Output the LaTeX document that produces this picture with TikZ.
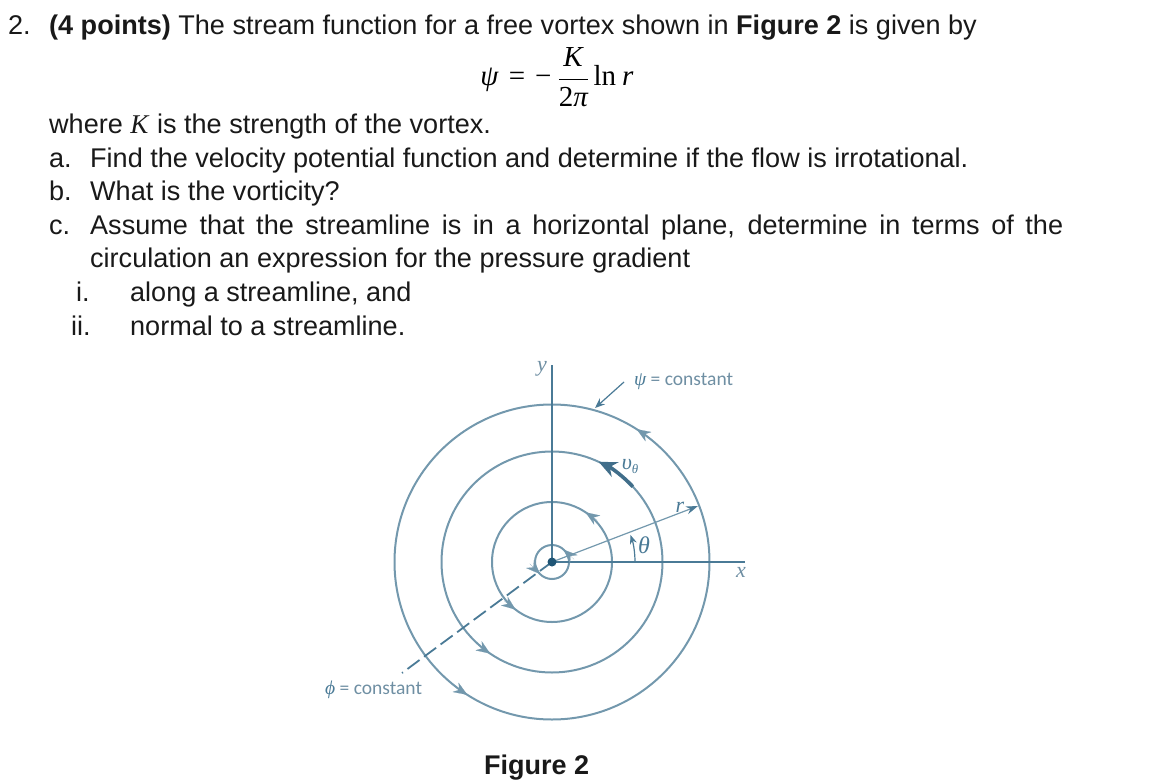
\documentclass[tikz,border=0pt]{standalone}
\usepackage{fontspec}
\setmainfont{Liberation Sans}
\newfontfamily\figfont{Carlito}
\newfontfamily\serfont{Liberation Serif}
\usetikzlibrary{arrows.meta}
\definecolor{figline}{HTML}{7398AD}
\definecolor{figdark}{HTML}{4A7A96}
\definecolor{figdeep}{HTML}{1F5575}
\definecolor{figtext}{HTML}{6F8FA3}
\tikzset{
  txt/.style={anchor=base west,inner sep=0pt,font=\fontsize{27.05}{33}\selectfont,text=black!90},
  flowline/.style={draw=figline,line width=2pt},
  axisline/.style={draw=figdark,line width=1.8pt},
  flowtip/.style={draw=none,-{Stealth[length=14pt,width=11pt,color=figline]}},
  figlabel/.style={anchor=base west,inner sep=0pt,text=figtext,font=\figfont\fontsize{19.5}{24}\selectfont},
  figsym/.style={inner sep=0pt,text=figdark,font=\serfont\itshape\fontsize{22}{24}\selectfont},
}
\newcommand{\tipon}[2]{\draw[flowtip,draw=figline,line width=0.1pt] ([shift={(O)}]#2:#1pt) ++(#2-90:14.5pt) -- ++(#2+90:14.5pt);}
\begin{document}
\begin{tikzpicture}[x=1pt,y=1pt]
\useasboundingbox (0,0) rectangle (1156,-781);
% text
\node[txt] (l1n) at (8,-35) {2.};
\node[txt] (l1) at (49,-35) {\textbf{(4 points)} The stream function for a free vortex shown in \textbf{Figure 2} is given by};
\node[anchor=center,inner sep=0pt,font=\serfont\fontsize{29}{32}\selectfont] (eq) at (557,-77.5) {\textit{ψ}\hspace{10pt}=\hspace{10pt}−\hspace{6pt}$\displaystyle\frac{\mbox{\rule[-11pt]{0pt}{1pt}\textit{K}}}{\mbox{\rule{0pt}{26pt}2\textit{π}}}$\hspace{4pt}ln\hspace{6pt}\textit{r}};
\node[txt] (l2) at (49,-133) {where \textit{\serfont K} is the strength of the vortex.};
\node[txt] (la) at (49,-167) {a.};
\node[txt] (lat) at (90,-167) {Find the velocity potential function and determine if the flow is irrotational.};
\node[txt] (lb) at (49,-200) {b.};
\node[txt] (lbt) at (90,-200) {What is the vorticity?};
\node[txt] (lc) at (49,-234) {c.};
\node[txt] (lct) at (90,-234) {\makebox[973pt][s]{Assume that the streamline is in a horizontal plane, determine in terms of the}};
\node[txt] (lct2) at (90,-267) {circulation an expression for the pressure gradient};
\node[txt] (li) at (76,-301) {i.};
\node[txt] (lit) at (130,-301) {along a streamline, and};
\node[txt] (lii) at (71,-335) {ii.};
\node[txt] (liit) at (130,-335) {normal to a streamline.};
\node[txt,font=\bfseries\fontsize{27}{33}\selectfont] (cap) at (484,-774) {Figure 2};
% figure
\coordinate (O) at (552,-562);
\coordinate (ytop) at (552,-365);
\coordinate (xend) at (745,-562);
\coordinate (rend) at (698,-506);
\coordinate (dashend) at (402,-673);
\coordinate (psistart) at (624,-382);
\coordinate (psiend) at (595,-408);
\node[circle,flowline,minimum size=34pt,inner sep=0pt] (c1) at (O) {};
\node[circle,flowline,minimum size=120pt,inner sep=0pt] (c2) at (O) {};
\node[circle,flowline,minimum size=221pt,inner sep=0pt] (c3) at (O) {};
\node[circle,flowline,minimum size=315pt,inner sep=0pt] (c4) at (O) {};
\draw[axisline] (O) -- (ytop);
\draw[axisline] (O) -- (xend);
\draw[draw=figdark,line width=1.8pt,dash pattern=on 15pt off 5.6pt] (O) -- (dashend);
\draw[draw=figline,line width=1.2pt,-{Stealth[length=12pt,width=8pt,color=figdark]}] (O) -- (rend);
\draw[draw=figdark,line width=1.2pt,-{Stealth[length=10pt,width=8pt]}] (psistart) -- (psiend);
\fill[figdeep] (O) circle[radius=4.5pt];
% flow direction tips
\tipon{157.5}{57.5}
\tipon{157.5}{237.5}
\tipon{110.5}{236}
\tipon{60}{56}
\tipon{60}{232.5}
\tipon{17}{47}
\tipon{17}{225}
% velocity and angle
\draw[draw=figdeep!85,line width=3.6pt,-{Stealth[length=18pt,width=16pt]}] ([shift={(O)}]43:110.5pt) arc[start angle=43,end angle=65,radius=110.5pt];
\draw[draw=figdark,line width=1.2pt,-{Stealth[length=9pt,width=7pt]}] ([shift={(O)}]0:83pt) arc[start angle=0,end angle=19,radius=83pt];
% labels
\node[figsym,text=figtext] (ly) at (542,-369) {y};
\node[figsym,text=figtext] (lx) at (741,-572) {x};
\node[figsym] (lr) at (680,-507) {r};
\node[figsym,font=\serfont\itshape\fontsize{24}{26}\selectfont] (lth) at (644,-545) {θ};
\node[figsym,font=\serfont\itshape\fontsize{22}{26}\selectfont] (lv) at (630,-466) {υ\raisebox{-4pt}{\fontsize{13}{14}\selectfont θ}};
\node[figlabel] (lpsi) at (634,-385) {{\serfont\itshape\color{figdark}ψ} = constant};
\node[figlabel] (lphi) at (325,-694) {{\serfont\itshape\color{figdark}ϕ} = constant};
\end{tikzpicture}
\end{document}
